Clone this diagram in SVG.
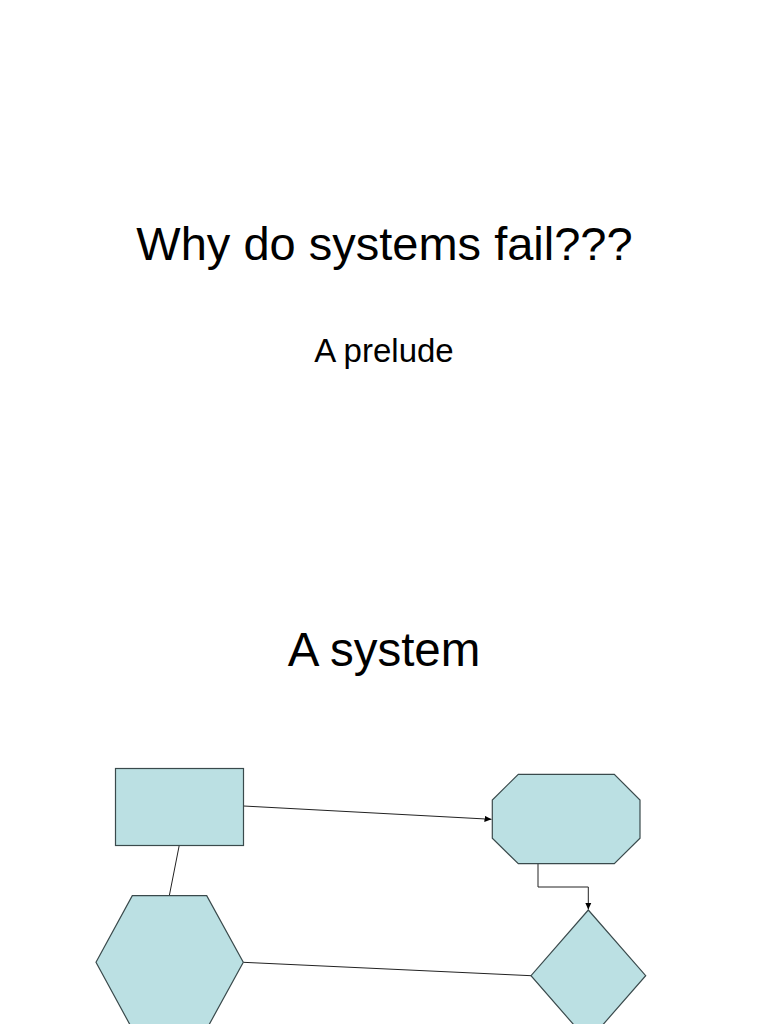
<svg xmlns="http://www.w3.org/2000/svg" width="768" height="1024" viewBox="0 0 768 1024">
<style>
text{font-family:"Liberation Sans",Arial,sans-serif;fill:#000;text-anchor:middle}
.shape{fill:#BBE0E3;stroke:#3a4a4c;stroke-width:1.2}
.conn{fill:none;stroke:#222;stroke-width:1}
</style>
<defs>
<marker id="arr" markerWidth="8" markerHeight="8" refX="7" refY="4" orient="auto" markerUnits="userSpaceOnUse">
<path d="M0,0.8 L7,4 L0,7.2 Z" fill="#000"/>
</marker>
</defs>
<rect width="768" height="1024" fill="#fff"/>
<text x="384.5" y="260" font-size="47">Why do systems fail???</text>
<text x="384" y="362" font-size="33">A prelude</text>
<text x="384" y="666" font-size="47.5">A system</text>
<g id="connectors">
<line class="conn" x1="243.5" y1="806" x2="491.5" y2="819.3" marker-end="url(#arr)"/>
<polyline class="conn" points="538,864 538,887 588.3,887 588.3,909.5" marker-end="url(#arr)"/>
<line class="conn" x1="179.3" y1="845" x2="169.3" y2="895.7"/>
<line class="conn" x1="243.3" y1="962.3" x2="531" y2="975.7"/>
</g>
<g id="rect-node"><rect class="shape" x="115.5" y="768.5" width="128" height="77"/></g>
<g id="octagon-node"><polygon class="shape" points="518.3,774.3 614.3,774.3 640,800 640,838.3 614.3,863.7 518.3,863.7 492.3,838.3 492.3,800"/></g>
<g id="hexagon-node"><polygon class="shape" points="132.3,895.7 206.7,895.7 243.3,962.3 206.7,1029 132.3,1029 96,962.3"/></g>
<g id="diamond-node"><polygon class="shape" points="588.3,910 645.7,975.7 588.3,1041.4 531,975.7"/></g>
</svg>
